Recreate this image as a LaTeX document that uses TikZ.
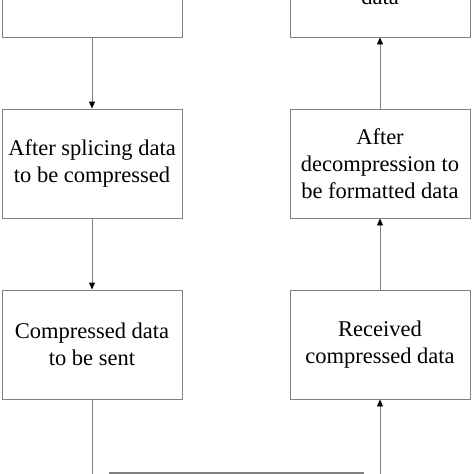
\documentclass[tikz,border=0pt]{standalone}
\usepackage{fontspec}
\setmainfont{Liberation Serif}
\usetikzlibrary{arrows.meta}
\definecolor{linegray}{RGB}{128,128,128}
\begin{document}
\begin{tikzpicture}[x=1pt,y=-1pt,
  box/.style={draw=linegray, line width=0.9pt, minimum width=180pt, minimum height=109pt,
    align=center, inner sep=0pt, font=\fontsize{22.5}{27}\selectfont},
  lbl/.style={inner sep=0pt, font=\fontsize{22.5}{27}\selectfont},
  link/.style={draw=linegray, line width=0.9pt},
  arr/.style={link, -{Triangle[length=7pt,width=6pt,color=black]}}]
\useasboundingbox (0,0) rectangle (474,474);
\clip (0,0) rectangle (474,474);
\fill[white] (0,0) rectangle (474,474);
\node[box] (L1) at (92,-17.5) {};
\node[box] (L2) at (92,163.5) {After splicing data\\to be compressed};
\node[box] (L3) at (92,344.5) {Compressed data\\to be sent};
\node[box] (R1) at (380,-17.5) {};
\node[lbl, anchor=base] (R1t) at (380,4) {data};
\node[box] (R2) at (380,163.5) {After\\decompression to\\be formatted data};
\node[box] (R3) at (380,344.5) {Received\\compressed data};
\node[box, minimum width=254pt, line width=1.6pt] (B) at (236.3,527.5) {};
\coordinate (Lend) at (92,480);
\coordinate (Rstart) at (380,480);
\draw[arr] (L1.south) -- (L2.north);
\draw[arr] (L2.south) -- (L3.north);
\draw[link] (L3.south) -- (Lend);
\draw[arr] (Rstart) -- (R3.south);
\draw[arr] (R3.north) -- (R2.south);
\draw[arr] (R2.north) -- (R1.south);
\end{tikzpicture}
\end{document}
